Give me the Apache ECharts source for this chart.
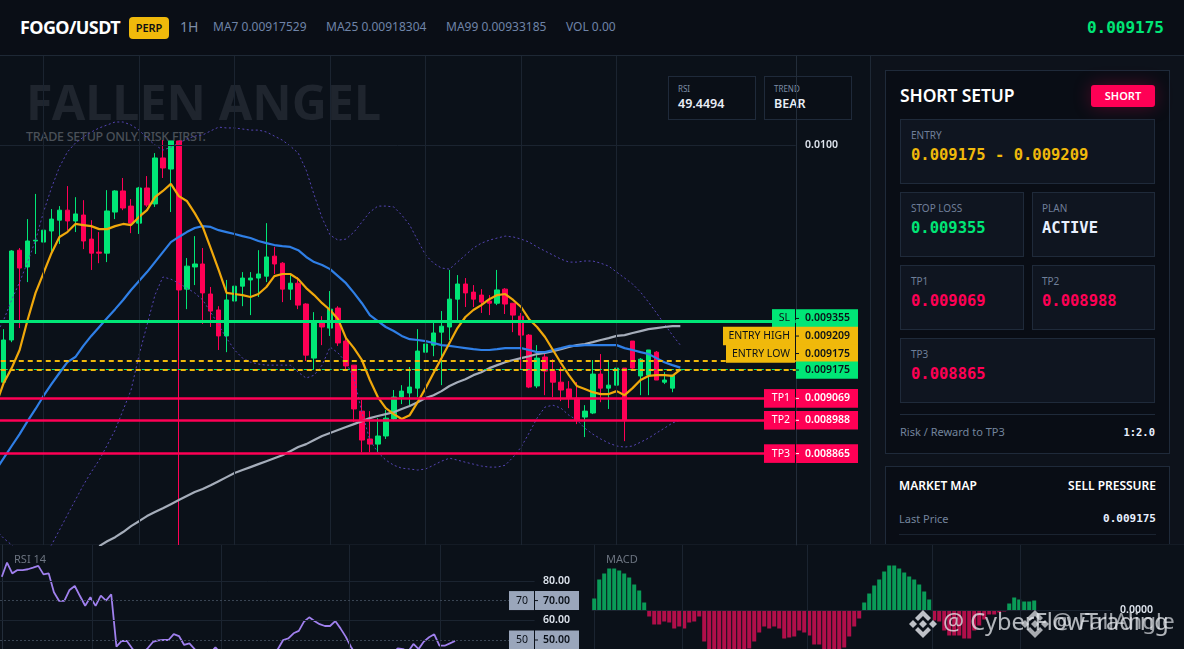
<!DOCTYPE html>
<html><head><meta charset="utf-8">
<script src="https://cdn.jsdelivr.net/npm/echarts@6/dist/echarts.min.js"></script>
<style>
html,body{margin:0;padding:0;width:1184px;height:649px;overflow:hidden;background:#0b1119;font-family:"Noto Sans",sans-serif}
.a{position:absolute;white-space:nowrap;line-height:1}
.box{position:absolute;box-sizing:border-box;border:1px solid #1f2a3a;background:#0f1520}
.m{font-family:"DejaVu Sans Mono",monospace;font-weight:700}
#c{position:absolute;left:0;top:0;width:1184px;height:649px}
</style></head><body>
<div style="position:absolute;left:0;top:0;width:1184px;height:55px;background:#0a0e16;border-bottom:1px solid #1e2835"></div>
<div style="position:absolute;left:870px;top:56px;width:314px;height:488px;background:#0d121b;border-left:1px solid #1e2835"></div>
<div style="position:absolute;left:0;top:544px;width:1184px;height:105px;background:#0b1119;border-top:1px solid #141b25;box-sizing:border-box"></div>

<div class="a" style="left:20px;top:18px;font-size:18px;font-weight:700;color:#fff;letter-spacing:-.6px">FOGO/USDT</div>
<div class="a" style="left:129px;top:17px;width:40px;height:22px;line-height:22px;text-align:center;background:#f0b90b;border-radius:4px;color:#111;font-size:11px;font-weight:600">PERP</div>
<div class="a" style="left:180px;top:20px;font-size:14px;color:#7d8da6">1H</div>
<div class="a" style="left:213px;top:21px;font-size:12px;color:#6f84a8">MA7 0.00917529</div>
<div class="a" style="left:326px;top:21px;font-size:12px;color:#6f84a8">MA25 0.00918304</div>
<div class="a" style="left:446px;top:21px;font-size:12px;color:#6f84a8">MA99 0.00933185</div>
<div class="a" style="left:566px;top:21px;font-size:12px;color:#6f84a8">VOL 0.00</div>
<div class="a m" style="right:20px;top:20px;font-size:16px;color:#00e676">0.009175</div>

<div class="a" style="left:26px;top:77px;font-size:48.5px;font-weight:700;color:#1f252e">FALLEN ANGEL</div>
<div class="a" style="left:26px;top:131px;font-size:12.5px;font-weight:500;color:#4a5058;letter-spacing:-.3px">TRADE SETUP ONLY. RISK FIRST.</div>

<div class="box" style="left:668px;top:76px;width:88px;height:44px;background:#0a0f17"></div>
<div class="a" style="left:678px;top:85px;font-size:8px;color:#7d8da6">RSI</div>
<div class="a" style="left:678px;top:98px;font-size:12.5px;font-weight:600;color:#e8edf5">49.4494</div>
<div class="box" style="left:764px;top:76px;width:88px;height:44px;background:#0a0f17"></div>
<div class="a" style="left:774px;top:85px;font-size:8px;color:#7d8da6">TREND</div>
<div class="a" style="left:774px;top:98px;font-size:12.5px;font-weight:600;color:#e8edf5">BEAR</div>

<div class="box" style="left:885px;top:70px;width:285px;height:384px;background:#090d15"></div>
<div class="a" style="left:900px;top:87px;font-size:17.5px;font-weight:600;color:#fff;letter-spacing:-.1px">SHORT SETUP</div>
<div class="a" style="left:1091px;top:85px;width:64px;height:22px;line-height:22px;text-align:center;background:#ff0055;border-radius:3px;color:#fff;font-size:11px;font-weight:600;box-shadow:0 0 18px rgba(255,0,85,.28)">SHORT</div>

<div class="box" style="left:900px;top:119px;width:255px;height:65px"></div>
<div class="a" style="left:911px;top:130px;font-size:10px;color:#6f7f99">ENTRY</div>
<div class="a m" style="left:911px;top:148px;font-size:15.5px;color:#f0b90b">0.009175 - 0.009209</div>

<div class="box" style="left:900px;top:192px;width:124px;height:65px"></div>
<div class="a" style="left:911px;top:203px;font-size:10px;color:#6f7f99">STOP LOSS</div>
<div class="a m" style="left:911px;top:221px;font-size:15.5px;color:#00e676">0.009355</div>
<div class="box" style="left:1032px;top:192px;width:123px;height:65px"></div>
<div class="a" style="left:1042px;top:203px;font-size:10px;color:#6f7f99">PLAN</div>
<div class="a m" style="left:1042px;top:221px;font-size:15.5px;color:#e8f0ff">ACTIVE</div>

<div class="box" style="left:900px;top:265px;width:124px;height:65px"></div>
<div class="a" style="left:911px;top:276px;font-size:10px;color:#6f7f99">TP1</div>
<div class="a m" style="left:911px;top:294px;font-size:15.5px;color:#ff0055">0.009069</div>
<div class="box" style="left:1032px;top:265px;width:123px;height:65px"></div>
<div class="a" style="left:1042px;top:276px;font-size:10px;color:#6f7f99">TP2</div>
<div class="a m" style="left:1042px;top:294px;font-size:15.5px;color:#ff0055">0.008988</div>

<div class="box" style="left:900px;top:338px;width:255px;height:65px"></div>
<div class="a" style="left:911px;top:349px;font-size:10px;color:#6f7f99">TP3</div>
<div class="a m" style="left:911px;top:367px;font-size:15.5px;color:#ff0055">0.008865</div>

<div style="position:absolute;left:900px;top:414px;width:255px;height:1px;background:#1f2a3a"></div>
<div class="a" style="left:900px;top:426px;font-size:11px;color:#73849c">Risk / Reward to TP3</div>
<div class="a m" style="right:29px;top:427px;font-size:10.5px;color:#e8f0ff">1:2.0</div>

<div class="box" style="left:885px;top:466px;width:285px;height:78px;background:#090d15;border-bottom:none"></div>
<div class="a" style="left:899px;top:480px;font-size:12px;font-weight:600;color:#fff">MARKET MAP</div>
<div class="a" style="right:28px;top:480px;font-size:12px;font-weight:600;color:#fff">SELL PRESSURE</div>
<div class="a" style="left:899px;top:513px;font-size:11px;color:#73849c">Last Price</div>
<div class="a m" style="right:28px;top:513px;font-size:11px;color:#e8f0ff">0.009175</div>
<div style="position:absolute;left:899px;top:534px;width:257px;height:1px;background:#1a2330"></div>

<div id="c"></div>

<div class="a" style="left:14px;top:553px;font-size:11px;color:#6c7480">RSI 14</div>
<div class="a" style="left:606px;top:553px;font-size:11px;color:#6c7480">MACD</div>

<svg style="position:absolute;left:908px;top:609px" width="30" height="30" viewBox="-15 -15 30 30" fill="rgba(235,238,242,.8)">
<path d="M0-14 8-6 5-3 0-8-5-3-8-6Z M0 14 8 6 5 3 0 8-5 3-8 6Z M0-4 4 0 0 4-4 0Z M-10-4-6 0-10 4-14 0Z M10-4 14 0 10 4 6 0Z"/></svg>
<svg style="position:absolute;left:1020px;top:609px" width="30" height="30" viewBox="-15 -15 30 30" fill="rgba(235,238,242,.7)">
<path d="M0-14 8-6 5-3 0-8-5-3-8-6Z M0 14 8 6 5 3 0 8-5 3-8 6Z M0-4 4 0 0 4-4 0Z M-10-4-6 0-10 4-14 0Z M10-4 14 0 10 4 6 0Z"/></svg>
<div class="a" style="left:943px;top:610px;font-size:23.5px;color:rgba(235,238,242,.75)">@ CyberFlowTrading</div>
<div class="a" style="left:1052px;top:610px;font-size:22.5px;color:rgba(235,238,242,.65)">@ FallAngle</div>

<script>
// All price values are in units of 0.000001 USDT
const opens=[9129,9285,9617,9555,9651,9647,9688,9728,9765,9725,9747,9658,9610,9606,9758,9836,9780,9717,9847,9788,9958,9917,10021,9473,9555,9566,9455,9396,9300,9429,9484,9507,9514,9521,9595,9569,9473,9495,9418,9218,9351,9329,9403,9281,9192,9022,8919,8900,8930,8993,9074,9089,9107,9240,9266,9314,9333,9436,9492,9462,9451,9429,9421,9473,9421,9373,9303,9115,9222,9170,9129,9104,9070,9000,9015,9159,9107,9118,9181,9281,9152,9155,9240,9129,9107,9175];
const closes=[9285,9614,9551,9651,9654,9691,9732,9765,9725,9751,9651,9606,9606,9762,9836,9773,9717,9847,9784,9958,9921,10021,9470,9558,9566,9459,9392,9300,9433,9484,9514,9514,9529,9592,9566,9473,9495,9414,9229,9348,9333,9399,9274,9189,9030,8915,8900,8930,8996,9074,9096,9111,9244,9270,9311,9336,9436,9492,9459,9436,9425,9421,9470,9418,9377,9303,9111,9218,9170,9129,9100,9070,8989,9022,9159,9107,9118,9181,8989,9181,9214,9248,9137,9137,9155,9175];
const lows=[9129,9277,9329,9499,9603,9588,9606,9640,9691,9684,9621,9544,9569,9573,9732,9765,9680,9677,9777,9777,9884,9758,8527,9399,9488,9344,9333,9248,9240,9410,9410,9377,9444,9499,9529,9425,9433,9399,9207,9177,9266,9300,9263,9174,8981,8870,8870,8870,8919,8985,9048,9044,9074,9159,9225,9118,9285,9359,9407,9407,9385,9377,9414,9381,9314,9174,9107,9107,9081,9074,9059,9033,8974,8926,9011,9055,9030,9022,8911,9174,9081,9081,9137,9122,9092,9175];
const highs=[9325,9617,9625,9732,9825,9810,9769,9780,9854,9813,9802,9728,9684,9839,9839,9884,9806,9851,9891,9976,10024,10021,10021,9588,9669,9625,9481,9410,9507,9573,9536,9536,9617,9717,9629,9573,9525,9518,9421,9388,9373,9466,9410,9292,9192,9063,9022,8996,9026,9100,9118,9185,9325,9311,9348,9392,9544,9525,9514,9488,9473,9451,9544,9477,9421,9385,9307,9266,9237,9214,9185,9133,9129,9044,9211,9233,9211,9185,9181,9281,9218,9248,9244,9166,9155,9175];
// Overlay lines: the first entry sits one bar before the first visible candle
const ma7=[9044,9126,9181,9248,9359,9459,9532,9606,9666,9684,9714,9710,9706,9695,9695,9706,9714,9710,9740,9765,9813,9836,9862,9817,9799,9754,9703,9625,9544,9459,9455,9451,9444,9455,9481,9521,9529,9529,9510,9477,9451,9421,9396,9362,9292,9255,9211,9137,9074,9033,9011,8993,9007,9055,9107,9163,9218,9274,9329,9370,9396,9414,9436,9451,9455,9433,9407,9362,9333,9296,9248,9200,9155,9115,9104,9092,9085,9085,9096,9081,9107,9137,9152,9155,9155,9152,9175];
const ma25=[8804,8848,8893,8937,8985,9030,9078,9122,9163,9203,9222,9263,9300,9333,9366,9399,9433,9470,9503,9536,9573,9610,9647,9666,9684,9699,9706,9703,9691,9684,9677,9669,9662,9651,9643,9636,9632,9629,9617,9592,9573,9562,9547,9521,9495,9459,9421,9377,9355,9333,9318,9300,9288,9285,9281,9274,9266,9263,9259,9255,9251,9248,9248,9251,9255,9255,9255,9248,9240,9240,9248,9255,9263,9263,9266,9266,9266,9266,9266,9255,9248,9240,9233,9218,9203,9192,9183];
const ma99=[null,null,null,null,null,null,null,null,null,null,null,null,null,8523,8541,8556,8575,8597,8615,8634,8649,8663,8678,8693,8708,8723,8734,8748,8763,8778,8793,8804,8815,8826,8837,8848,8859,8874,8889,8900,8915,8930,8941,8952,8963,8974,8985,8996,9004,9011,9018,9030,9041,9055,9070,9081,9096,9115,9129,9140,9155,9166,9181,9192,9203,9211,9218,9225,9233,9237,9244,9251,9259,9266,9270,9277,9285,9292,9300,9303,9311,9318,9325,9329,9333,9336,9336];
const bollUpper=[9303,9359,9433,9499,9573,9654,9758,9847,9924,9980,10013,10035,10054,10069,10080,10091,10091,10080,10061,10032,10006,9987,9998,10013,10028,10039,10043,10058,10072,10069,10069,10065,10061,10061,10054,10039,10024,10002,9976,9913,9821,9736,9673,9654,9658,9684,9721,9758,9780,9780,9777,9747,9710,9654,9599,9569,9551,9547,9573,9599,9625,9643,9654,9662,9669,9666,9658,9647,9629,9614,9599,9584,9573,9573,9577,9577,9569,9558,9536,9514,9492,9462,9425,9385,9344,9303,9266];
const bollLower=[8582,8552,8527,8501,8479,8471,8486,8527,8582,8638,8693,8748,8797,8841,8896,8952,9026,9100,9229,9340,9451,9518,9510,9495,9477,9459,9433,9388,9340,9292,9248,9218,9203,9196,9192,9192,9192,9192,9166,9144,9155,9192,9259,9237,9203,9144,9018,8915,8870,8841,8822,8811,8808,8804,8808,8822,8837,8848,8841,8833,8826,8819,8815,8815,8822,8852,8889,8941,8996,9037,9044,9033,9007,8989,8959,8937,8919,8904,8893,8889,8893,8907,8922,8941,8959,8978,8989];
const priceTicks=[10006];
const levelNames=['SL','ENTRY HIGH','ENTRY LOW','TP1','TP2','TP3'];
const levelValues=[9355,9209,9175,9069,8988,8865];
const lastPrice=9175;
const rsi=[82.1,89.3,83.8,85.5,85.5,85.9,86.7,87.6,83.3,83.8,74.2,69.8,69.8,75.4,77.4,72.3,67.4,71.7,67.3,72.5,70,73.2,46.6,49.5,49.5,45.8,42.4,43.2,45.8,49,49.8,50,50,53,52,47.5,48.3,45.4,42.4,41.5,43.2,46.3,43.2,39.8,36.5,34.8,34,35.6,37.3,39,39.9,41.5,43.2,45.4,50,50.8,53.4,54.6,59.3,61.5,59.6,58,57.1,57.1,59.6,55.9,51.7,46.6,42.4,39.9,38.2,37.3,38.2,39.9,41.5,43.2,45.8,45.4,44.1,48,45.4,49.2,51.4,52.9,47.1,47.1,48.3,49.5];
const rsiSolidTicks=[80,60];
const rsiDashedTicks=[70,50];
const macdHist=[12,31,37,42,42,40,37,33,26,20,8,-6,-14,-14,-11,-12,-18,-16,-18,-12,-11,-6,-31,-42,-46,-44,-46,-44,-46,-44,-42,-38,-31,-22,-16,-18,-16,-18,-28,-27,-26,-20,-22,-25,-34,-34,-42,-44,-44,-39,-37,-26,-16,-8,8,17,25,31,39,45,45,42,38,34,31,26,19,11,-10,-11,-20,-25,-25,-25,-28,-28,-20,-15,-9,-4,-4,-2,-1,7,13,11,9,9,10];

const UP='#00e676',DOWN='#ff0055',YEL='#f0b90b',GRID='#1b2430';
const categories=Array.from({length:101},(_,i)=>'b'+i);
const candleGridBars=[6,18,30,42,54,66,78];
const rsiGridPositions=[17.3,42.2,66.6,84.1];
const macdGridPositions=[17.6,42.6,67.6,85.2];

const candleData=[['-','-','-','-']].concat(opens.map((o,i)=>[o,closes[i],lows[i],highs[i]]));
const noLine={symbol:'none',silent:true,animation:false,label:{show:false}};
function ovl(name,data,color,width,type){return {name,type:'line',data,xAxisIndex:0,yAxisIndex:0,symbol:'none',silent:true,connectNulls:false,
 lineStyle:{color,width,type:type||'solid'},z:type?3:4};}

const chart=echarts.init(document.getElementById('c'),null,{renderer:'canvas'});
chart.setOption({
 animation:false,backgroundColor:'transparent',
 grid:[
  {left:-8.24,top:56,width:804,height:489,outerBoundsMode:'none'},
  {left:0,top:545,width:534.6,height:104,outerBoundsMode:'none'},
  {left:591.7,top:545,width:519.5,height:104,outerBoundsMode:'none'}
 ],
 xAxis:[
  {gridIndex:0,type:'category',data:categories,boundaryGap:true,show:false},
  {gridIndex:1,type:'value',min:-0.35,max:102.26,show:false},
  {gridIndex:2,type:'value',min:-0.5,max:103.4,show:false}
 ],
 yAxis:[
  {gridIndex:0,type:'value',position:'right',min:8527,max:10335,splitLine:{show:false},axisTick:{show:false},
   axisLine:{show:true,lineStyle:{color:'#232d3a'}},axisLabel:{show:false}},
  {gridIndex:1,type:'value',position:'right',min:45.43,max:98.2,splitLine:{show:false},axisTick:{show:false},
   axisLine:{show:true,lineStyle:{color:'#232d3a'}},axisLabel:{show:false}},
  {gridIndex:2,type:'value',position:'right',min:-38.5,max:65.5,splitLine:{show:false},axisTick:{show:false},
   axisLine:{show:true,lineStyle:{color:GRID}},axisLabel:{show:false}}
 ],
 series:[
  {name:'grid',type:'line',data:[],xAxisIndex:0,yAxisIndex:0,z:1,
   markLine:Object.assign({},noLine,{lineStyle:{color:GRID,width:1,type:'solid'},
    data:candleGridBars.map(b=>({xAxis:categories[b]})).concat(priceTicks.map(v=>({yAxis:v})))})},
  {name:'FOGO/USDT',type:'candlestick',xAxisIndex:0,yAxisIndex:0,data:candleData,barWidth:5,z:2,silent:true,
   itemStyle:{color:UP,color0:DOWN,borderColor:UP,borderColor0:DOWN,borderColorDoji:UP,borderWidth:1}},
  ovl('BOLL up',bollUpper,'#5545b4',1,[2,2.5]),
  ovl('BOLL low',bollLower,'#5545b4',1,[2,2.5]),
  ovl('MA99',ma99,'#a5adba',2.2),
  ovl('MA25',ma25,'#2f7fe6',2.2),
  ovl('MA7',ma7,'#f0a80b',2.2),
  {name:'levels',type:'line',data:[],xAxisIndex:0,yAxisIndex:0,z:5,
   markLine:Object.assign({},noLine,{data:[
    {yAxis:lastPrice,lineStyle:{color:UP,width:1,type:'dashed'}},
    ...levelValues.map((v,i)=>({yAxis:v,lineStyle: i===0?{color:UP,width:3,type:'solid'}
       : i<3?{color:YEL,width:2,type:[5,4]}:{color:DOWN,width:2.5,type:'solid'}}))
   ]})},
  {name:'RSI 14',type:'line',xAxisIndex:1,yAxisIndex:1,data:rsi.map((v,i)=>[i,v]),symbol:'none',silent:true,
   lineStyle:{color:'#a080ee',width:1.8},z:4,
   markLine:Object.assign({},noLine,{data:[
    ...rsiGridPositions.map(x=>({xAxis:x,lineStyle:{color:GRID,width:1,type:'solid'}})),
    ...rsiSolidTicks.map(v=>({yAxis:v,lineStyle:{color:GRID,width:1,type:'solid'}})),
    ...rsiDashedTicks.map(v=>({yAxis:v,lineStyle:{color:'#3a4553',width:1,type:[2,2]}}))
   ]})},
  {name:'MACD',type:'bar',xAxisIndex:2,yAxisIndex:2,data:macdHist.map((v,i)=>[i,v]),barWidth:4,silent:true,z:4,
   itemStyle:{color:p=>p.value[1]>=0?'#0a9b57':'#b00f4a'},
   markLine:Object.assign({},noLine,{data:[
    ...macdGridPositions.map(x=>({xAxis:x,lineStyle:{color:GRID,width:1,type:'solid'}})),
    {yAxis:0,lineStyle:{color:GRID,width:1,type:'solid'}}
   ]})}
 ]
});

// Axis tags, placed through the chart's own scales
const LBL='10.5px "Noto Sans"',NUM='600 10.5px "Noto Sans"',DARK='#0b1119';
function rect(x,y,w,h,fill){return {type:'rect',shape:{x,y,width:w,height:h},style:{fill},z:100,silent:true};}
function txt(x,y,t,fill,font,al){return {type:'text',style:{x,y,text:t,fill,font,textAlign:al||'left',textVerticalAlign:'middle'},z:101,silent:true};}
const G=[];
const py=v=>chart.convertToPixel({yAxisIndex:0},v);
const fmt=v=>(v/1e6).toFixed(6);
priceTicks.forEach(v=>G.push(txt(805,py(v),(v/1e6).toFixed(4),'#dfe5ee',NUM)));
const levelShift=[-2.6,-24.5,-16.2,0,0,0];
const levelLeft=[772,723,726,764,764,764];
levelNames.forEach((n,i)=>{
 const v=levelValues[i],c=py(v)+levelShift[i],col=i===0?UP:i<3?YEL:DOWN,tc=i<3?DARK:'#fff';
 G.push(rect(levelLeft[i],c-9.3,795-levelLeft[i],18.6,col));
 G.push(rect(796,c-9.3,62,18.6,col));
 G.push(rect(796,c-.5,3,1,tc));
 G.push(txt(790,c,n,tc,LBL,'right'));
 G.push(txt(805,c,fmt(v),tc,NUM));
});
{const c=py(lastPrice)+.3;
 G.push(rect(796,c-8.6,62,17.4,UP));
 G.push(rect(796,c-.5,3,1,DARK));
 G.push(txt(805,c,fmt(lastPrice),DARK,NUM));}
const ry=v=>chart.convertToPixel({yAxisIndex:1},v);
rsiSolidTicks.forEach(v=>G.push(txt(543,ry(v),v.toFixed(2),'#dfe5ee',NUM)));
rsiDashedTicks.forEach(v=>{const c=ry(v);
 G.push(rect(509,c-9.5,25,19,'#9aa6bb'));
 G.push(rect(535,c-9.5,44,19,'#9aa6bb'));
 G.push(rect(535,c-.5,3,1,DARK));
 G.push(txt(522,c,String(v),DARK,LBL,'center'));
 G.push(txt(543,c,v.toFixed(2),DARK,NUM));
});
G.push(txt(1120,chart.convertToPixel({yAxisIndex:2},0),'0.0000','#dfe5ee',NUM));
chart.setOption({graphic:{elements:G}});
</script>
</body></html>
